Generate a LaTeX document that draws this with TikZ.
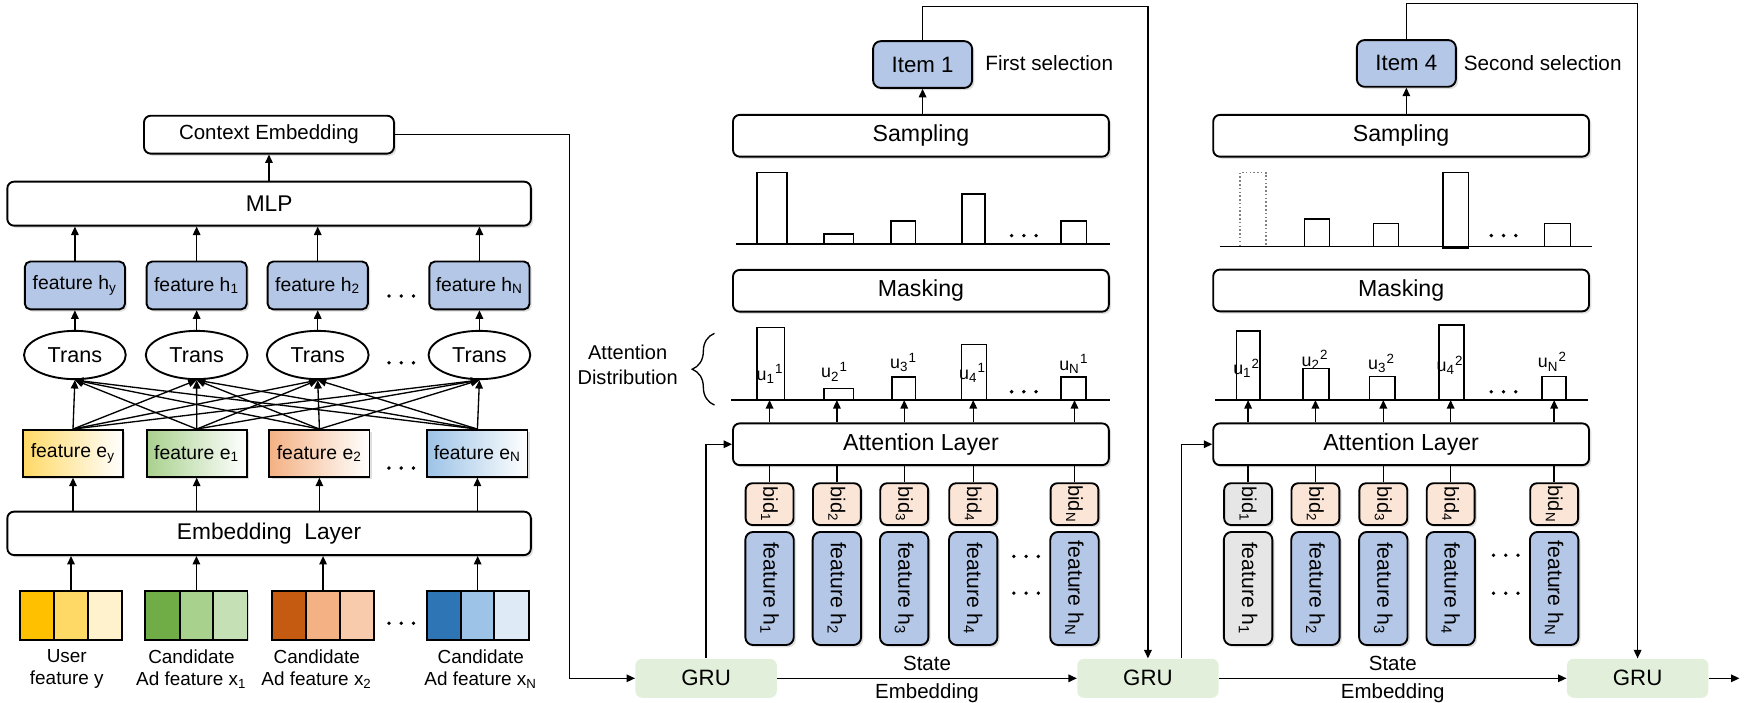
\documentclass[tikz,border=0pt]{standalone}
\usepackage{fontspec}
\setmainfont{Liberation Sans}
\usepackage{graphicx}
\usetikzlibrary{arrows.meta,shapes.geometric,shadows,decorations.pathreplacing,calc}
\definecolor{hblue}{HTML}{B4C7E7}
\definecolor{bidc}{HTML}{FBE5D6}
\definecolor{greyc}{HTML}{E7E6E6}
\definecolor{gruc}{HTML}{E2EFDA}
\definecolor{yA}{HTML}{FFC000}
\definecolor{yB}{HTML}{FFD966}
\definecolor{yC}{HTML}{FFF2CC}
\definecolor{gA}{HTML}{70AD47}
\definecolor{gB}{HTML}{A9D18E}
\definecolor{gC}{HTML}{C5E0B4}
\definecolor{oA}{HTML}{C55A11}
\definecolor{oB}{HTML}{F4B183}
\definecolor{oC}{HTML}{F8CBAD}
\definecolor{bA}{HTML}{2E75B6}
\definecolor{bB}{HTML}{9DC3E6}
\definecolor{bC}{HTML}{DEEBF7}
\newcommand{\fsz}[1]{\fontsize{#1}{#1}\selectfont}
\newcommand{\mydots}[2]{\foreach \dd in {-11,0,11}{\fill (#1+\dd,#2) circle (0.85pt);}}
\newcommand{\vecblock}[6]{%
  \node[vecnode] (#1) at (#2,#3) {};
  \fill[#4] (#2-45,#3-21.25) rectangle (#2-15,#3+21.25);
  \fill[#5] (#2-15,#3-21.25) rectangle (#2+15,#3+21.25);
  \fill[#6] (#2+15,#3-21.25) rectangle (#2+45,#3+21.25);
  \draw[line width=0.85pt] (#1.north west) rectangle (#1.south east);
  \draw[line width=0.85pt] (#2-15,#3-21.25) -- (#2-15,#3+21.25);
  \draw[line width=0.85pt] (#2+15,#3-21.25) -- (#2+15,#3+21.25);
}
\begin{document}
\begin{tikzpicture}[x=0.5pt,y=-0.5pt,
  shd/.style={drop shadow={opacity=0.25,shadow xshift=1pt,shadow yshift=-1pt}},
  conn/.style={line width=0.6pt},
  arr/.style={conn,-{Triangle[length=3.8pt,width=3.4pt]}},
  layer/.style={draw,line width=0.85pt,rounded corners=3pt,fill=white,shd,inner sep=0pt,minimum width=168.85pt,minimum height=18.75pt,font=\fsz{10.4}},
  hbox/.style={draw,line width=0.85pt,rounded corners=2.5pt,fill=hblue,shd,inner sep=0pt,minimum width=45pt,minimum height=21.5pt,font=\fsz{8.7}},
  ebox/.style={draw,line width=0.85pt,shd,inner sep=0pt,minimum width=45pt,minimum height=21pt,font=\fsz{8.7}},
  trans/.style={draw,ellipse,line width=0.85pt,fill=white,inner sep=0pt,minimum width=45.7pt,minimum height=21.7pt,font=\fsz{9.7}},
  vecnode/.style={draw,line width=0.85pt,fill=white,shd,inner sep=0pt,minimum width=45pt,minimum height=21.25pt},
  lbl/.style={align=center,font=\fontsize{8.5}{10}\selectfont,inner sep=0pt},
  gru/.style={fill=gruc,rounded corners=3pt,inner sep=0pt,minimum width=63.5pt,minimum height=17.5pt,font=\fsz{10}},
  item/.style={draw,line width=0.85pt,rounded corners=3.5pt,fill=hblue,shd,inner sep=0pt,minimum width=44.5pt,minimum height=21pt,font=\fsz{10}},
  bidbox/.style={draw,line width=0.85pt,rounded corners=3pt,fill=bidc,shd,inner sep=0pt,minimum width=21.5pt,minimum height=18.75pt,font=\fsz{9}},
  featbox/.style={draw,line width=0.85pt,rounded corners=3.5pt,fill=hblue,shd,inner sep=0pt,minimum width=21.75pt,minimum height=50.8pt,font=\fsz{9.5}},
  bar/.style={draw,line width=0.7pt,fill=white},
  base/.style={line width=0.7pt},
  ulbl/.style={font=\fsz{8},inner sep=0pt},
  txt/.style={inner sep=0pt,font=\fsz{9.3}},
]
\useasboundingbox (0,0) rectangle (1568,631);

%% ---------------- left panel ----------------
\node[layer,minimum width=112.3pt,minimum height=17pt,font=\fsz{9.2}] (ctx) at (241.7,121) {Context Embedding};
\node[layer,minimum width=235.2pt,minimum height=19.75pt,font=\fsz{10.2}] (mlp) at (241.8,183) {MLP};

\node[hbox] (hy) at (67.3,256.5) {feature h\textsubscript{y}};
\node[hbox] (h1) at (176.7,256.5) {feature h\textsubscript{1}};
\node[hbox] (h2) at (285.5,256.5) {feature h\textsubscript{2}};
\node[hbox] (hN) at (430.8,256.5) {feature h\textsubscript{N}};

\node[trans] (ty) at (67.3,319) {Trans};
\node[trans] (t1) at (176.7,319) {Trans};
\node[trans] (t2) at (285.5,319) {Trans};
\node[trans] (tN) at (430.8,319) {Trans};

\node[ebox,left color=yB,right color=white] (ey) at (65.6,407.4) {feature e\textsubscript{y}};
\node[ebox,left color=gB,right color=white] (e1) at (176.75,407.4) {feature e\textsubscript{1}};
\node[ebox,left color=oB,right color=white] (e2) at (287,407.4) {feature e\textsubscript{2}};
\node[ebox,left color=bB,right color=white] (eN) at (429,407.4) {feature e\textsubscript{N}};

\node[layer,minimum width=235.2pt,minimum height=19.5pt,font=\fsz{10.2}] (emb) at (241.8,479.25) {Embedding\ \ Layer};

\vecblock{vy}{63.8}{553}{yA}{yB}{yC}
\vecblock{v1}{176.5}{553}{gA}{gB}{gC}
\vecblock{v2}{290.3}{553}{oA}{oB}{oC}
\vecblock{vN}{429.2}{553}{bA}{bB}{bC}

\node[lbl] (ly) at (60,601) {User\\feature y};
\node[lbl] (l1) at (172,601) {Candidate\\Ad feature x\textsubscript{1}};
\node[lbl] (l2) at (284.6,601) {Candidate\\Ad feature x\textsubscript{2}};
\node[lbl] (lN) at (432,601) {Candidate\\Ad feature x\textsubscript{N}};

\mydots{360.5}{266}
\mydots{360.5}{326}
\mydots{360.5}{420.6}
\mydots{360.5}{560}

\foreach \n in {vy,v1,v2,vN} \draw[arr] (\n.north) -- (\n.north |- emb.south);
\foreach \n in {ey,e1,e2,eN} \draw[arr] (\n.south |- emb.north) -- (\n.south);
\foreach \s in {ey,e1,e2,eN} \foreach \t in {ty,t1,t2,tN} \draw[arr] (\s.north) -- (\t.south);
\foreach \t/\h in {ty/hy,t1/h1,t2/h2,tN/hN} \draw[arr] (\t.north) -- (\h.south);
\foreach \h in {hy,h1,h2,hN} \draw[arr] (\h.north) -- (\h.north |- mlp.south);
\draw[arr] (mlp.north -| ctx.south) -- (ctx.south);

%% ---------------- GRU chain ----------------
\node[gru] (gru1) at (634.5,609.5) {GRU};
\node[gru] (gru2) at (1031.5,609.5) {GRU};
\node[gru] (gru3) at (1471.5,609.5) {GRU};
\coordinate (j1) at (511.5,121);
\coordinate (out) at (1563,609.5);
\draw[arr] (ctx.east) -- (j1) |- (gru1.west);
\draw[arr] (gru1.east) -- (gru2.west)
  node[midway,above,inner sep=3pt,font=\fsz{9.2}] (st1) {State}
  node[midway,below,inner sep=2.3pt,font=\fsz{9.2}] (em1) {Embedding};
\draw[arr] (gru2.east) -- (gru3.west)
  node[midway,above,inner sep=3pt,font=\fsz{9.2}] (st2) {State}
  node[midway,below,inner sep=2.3pt,font=\fsz{9.2}] (em2) {Embedding};
\draw[arr] (gru3.east) -- (out);

%% ---------------- middle panel ----------------
\node[layer] (att1) at (827.5,399.2) {Attention Layer};
\node[layer] (mask1) at (827.5,261.3) {Masking};
\node[layer] (samp1) at (827.5,122) {Sampling};
\node[item] (item1) at (829,58) {Item 1};
\node[txt,anchor=west] (sel1) at (885,57) {First selection};
\draw[arr] (samp1.north -| item1.south) -- (item1.south);
\draw[arr] (item1.north) -- (item1.north |- 0,6) -| (gru2.north);
\draw[arr] (gru1.north) |- (att1.west);

\coordinate (bl1) at (657,359.5);
\coordinate (sb1) at (661,219.5);
\foreach \i/\x/\s in {1/691.5/1,2/752/2,3/812.5/3,4/874.5/4,5/965.5/N} {
  \node[bidbox] (mb\i) at (\x,453) {\rotatebox{-90}{bid\textsubscript{\s}}};
  \node[featbox] (mf\i) at (\x,528.8) {\rotatebox{-90}{feature h\textsubscript{\s}}};
  \draw[conn] (mb\i.north) -- (mb\i.north |- att1.south);
  \draw[arr] (mb\i.north |- att1.north) -- (mb\i.north |- bl1);
}
\mydots{922}{500}
\mydots{922}{533}

% attention distribution
\draw[bar] (680.4,294.4) rectangle (705,359.5);
\draw[bar] (740.5,349) rectangle (767,359.5);
\draw[bar] (801.4,339) rectangle (822.6,359.5);
\draw[bar] (864,309.4) rectangle (886.5,359.5);
\draw[bar] (953.5,339) rectangle (976,359.5);
\draw[base] (bl1) -- (997,359.5);
\mydots{920}{352}
\node[ulbl] (ua1) at (692,336) {u\textsubscript{1}\textsuperscript{1}};
\node[ulbl] (ua2) at (750,334) {u\textsubscript{2}\textsuperscript{1}};
\node[ulbl] (ua3) at (812,325.5) {u\textsubscript{3}\textsuperscript{1}};
\node[ulbl] (ua4) at (874,335) {u\textsubscript{4}\textsuperscript{1}};
\node[ulbl] (ua5) at (965,327) {u\textsubscript{N}\textsuperscript{1}};

\draw[conn,decorate,decoration={brace,amplitude=10pt,aspect=0.5}] (642,364) -- (642,299.5);
\node[align=center,inner sep=0pt,font=\fontsize{9}{11.5}\selectfont] (adist) at (564,328) {Attention\\Distribution};

% sampling distribution
\draw[bar] (680.4,155) rectangle (707,219.5);
\draw[bar] (740.5,210.5) rectangle (767.1,219.5);
\draw[bar] (800.8,198.6) rectangle (822.6,219.5);
\draw[bar] (864.4,174.3) rectangle (885,219.5);
\draw[bar] (953.5,198.6) rectangle (976.1,219.5);
\draw[base] (sb1) -- (997,219.5);
\mydots{920}{211.7}

%% ---------------- right panel ----------------
\node[layer] (att2) at (1259,399.2) {Attention Layer};
\node[layer] (mask2) at (1259,261) {Masking};
\node[layer] (samp2) at (1259,122) {Sampling};
\node[item] (item4) at (1263.7,57) {Item 4};
\node[txt,anchor=west] (sel2) at (1315,57) {Second selection};
\draw[arr] (samp2.north -| item4.south) -- (item4.south);
\draw[arr] (item4.north) -- (item4.north |- 0,3) -| (gru3.north);
\draw[arr] ($(gru2.north)+(30,0)$) |- (att2.west);

\coordinate (bl2) at (1092,359.5);
\coordinate (sb2) at (1096,221.6);
\foreach \i/\x/\s in {1/1121.5/1,2/1182/2,3/1243/3,4/1303.5/4,5/1396.5/N} {
  \ifnum\i=1
    \node[bidbox,fill=greyc] (rb\i) at (\x,453) {\rotatebox{-90}{bid\textsubscript{\s}}};
    \node[featbox,fill=greyc] (rf\i) at (\x,528.8) {\rotatebox{-90}{feature h\textsubscript{\s}}};
  \else
    \node[bidbox] (rb\i) at (\x,453) {\rotatebox{-90}{bid\textsubscript{\s}}};
    \node[featbox] (rf\i) at (\x,528.8) {\rotatebox{-90}{feature h\textsubscript{\s}}};
  \fi
  \draw[conn] (rb\i.north) -- (rb\i.north |- att2.south);
  \draw[arr] (rb\i.north |- att2.north) -- (rb\i.north |- bl2);
}
\mydots{1353}{499}
\mydots{1353}{533}

\draw[bar] (1111,297.4) rectangle (1132.4,359.5);
\draw[bar] (1170.8,331) rectangle (1194.2,359.5);
\draw[bar] (1230.6,338.4) rectangle (1253.6,359.5);
\draw[bar] (1293.2,292) rectangle (1315.4,359.5);
\draw[bar] (1385.7,338.4) rectangle (1407,359.5);
\draw[base] (bl2) -- (1427,359.5);
\mydots{1351}{352}
\node[ulbl] (ub1) at (1120.3,331) {u\textsubscript{1}\textsuperscript{2}};
\node[ulbl] (ub2) at (1181.7,323.5) {u\textsubscript{2}\textsuperscript{2}};
\node[ulbl] (ub3) at (1241.5,326.5) {u\textsubscript{3}\textsuperscript{2}};
\node[ulbl] (ub4) at (1303,328) {u\textsubscript{4}\textsuperscript{2}};
\node[ulbl] (ub5) at (1395,325) {u\textsubscript{N}\textsuperscript{2}};

\draw[line width=0.7pt,densely dotted,draw=gray] (1114.2,155.1) rectangle (1137.7,221.6);
\draw[bar] (1172,196.8) rectangle (1194.6,221.6);
\draw[bar] (1234.2,200.7) rectangle (1256.8,221.6);
\draw[bar] (1296.8,155.1) rectangle (1319.4,223);
\draw[bar] (1388,200.7) rectangle (1411,221.6);
\draw[base] (sb2) -- (1430.5,221.6);
\mydots{1351}{211.7}
\end{tikzpicture}
\end{document}
